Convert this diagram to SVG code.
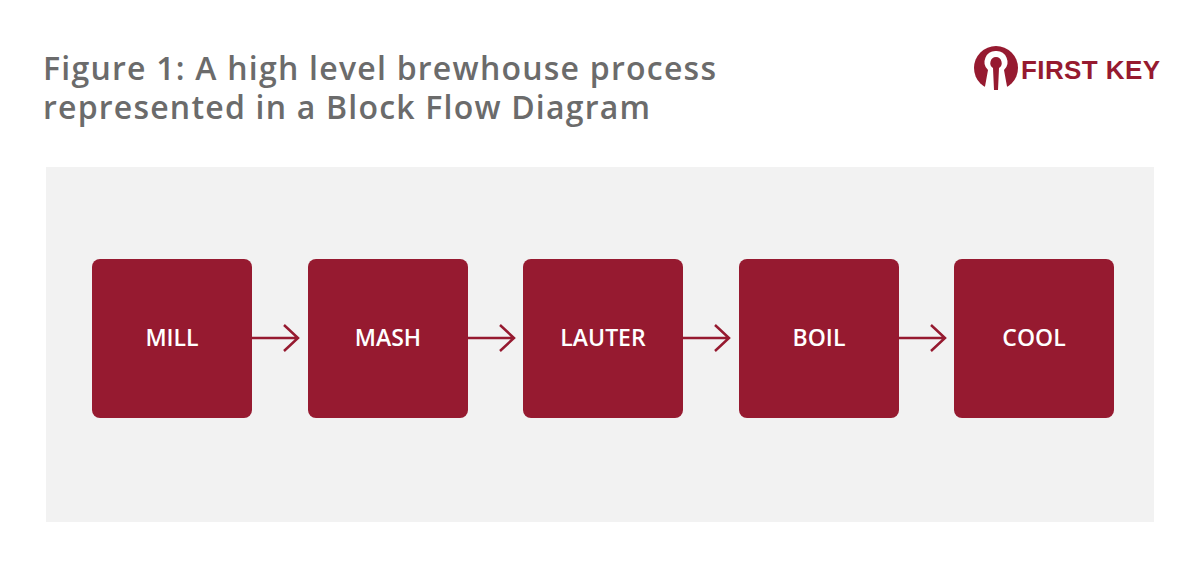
<svg xmlns="http://www.w3.org/2000/svg" width="1200" height="568" viewBox="0 0 1200 568">
<style>
.title{font-family:"Open Sans","Liberation Sans",sans-serif;font-size:32px;font-weight:600;fill:#6b6b6b}
.box{fill:#961a30}
.lbl{font-family:"Open Sans","Liberation Sans",sans-serif;font-size:23px;font-weight:600;fill:#fff;text-anchor:middle}
.con{stroke:#961a30;stroke-width:2.5;fill:none}
</style>
<rect width="1200" height="568" fill="#fff"/>
<text class="title" x="43" y="80" textLength="673">Figure 1: A high level brewhouse process</text>
<text class="title" x="43" y="119" textLength="607">represented in a Block Flow Diagram</text>
<g id="logo">
<circle cx="996" cy="68" r="22" fill="#961a30"/>
<path d="M996 51 A11 11 0 0 0 988 70 L984 92 L1008 92 L1004 70 A11 11 0 0 0 996 51 Z" fill="#fff"/>
<path d="M996 57 A6 6 0 0 0 993 68 L994 90 L998 90 L999 68 A6 6 0 0 0 996 57 Z" fill="#961a30"/>
<text x="1021" y="79" font-family="'Liberation Sans',sans-serif" font-weight="bold" font-size="26" fill="#961a30" textLength="139">FIRST KEY</text>
</g>
<rect x="46" y="167" width="1108" height="355" fill="#f2f2f2"/>
<g id="connectors">
<path class="con" d="M252 338H298M284 325L298 338L284 351"/>
<path class="con" d="M468 338H514M500 325L514 338L500 351"/>
<path class="con" d="M683 338H729M715 325L729 338L715 351"/>
<path class="con" d="M899 338H945M931 325L945 338L931 351"/>
</g>
<g id="mill"><rect class="box" x="92" y="259" width="160" height="159" rx="8"/><text class="lbl" x="172" y="346">MILL</text></g>
<g id="mash"><rect class="box" x="308" y="259" width="160" height="159" rx="8"/><text class="lbl" x="388" y="346">MASH</text></g>
<g id="lauter"><rect class="box" x="523" y="259" width="160" height="159" rx="8"/><text class="lbl" x="603" y="346">LAUTER</text></g>
<g id="boil"><rect class="box" x="739" y="259" width="160" height="159" rx="8"/><text class="lbl" x="819" y="346">BOIL</text></g>
<g id="cool"><rect class="box" x="954" y="259" width="160" height="159" rx="8"/><text class="lbl" x="1034" y="346">COOL</text></g>
</svg>
